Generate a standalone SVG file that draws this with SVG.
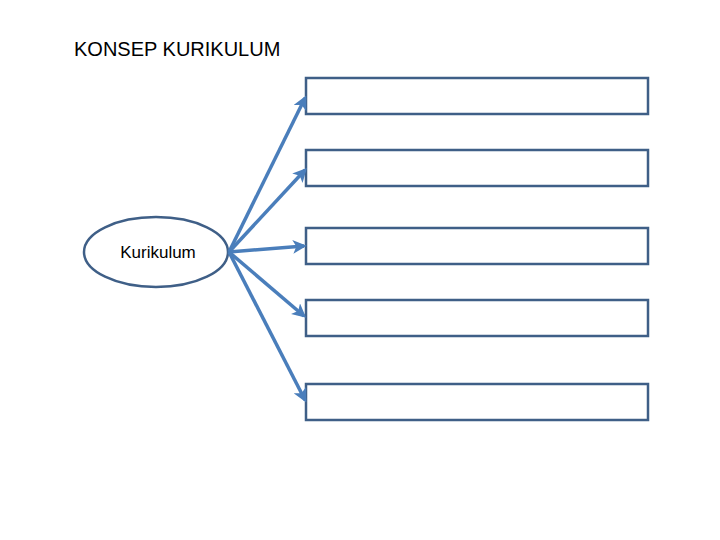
<svg xmlns="http://www.w3.org/2000/svg" width="720" height="540" viewBox="0 0 720 540">
<style>
.box{fill:#fff;stroke:#3F5F87;stroke-width:2.5}
.c{stroke:#4A7EBB;stroke-width:3.5;fill:none;marker-end:url(#a)}
text{font-family:"Liberation Sans",Arial,sans-serif;fill:#000}
</style>
<defs><marker id="a" viewBox="0 0 10 10" refX="8" refY="5" markerWidth="4" markerHeight="4" orient="auto" markerUnits="strokeWidth"><path d="M0,0 L10,5 L0,10 L2.5,5 z" fill="#4A7EBB"/></marker></defs>
<rect width="720" height="540" fill="#fff"/>
<text x="74" y="56" font-size="20">KONSEP KURIKULUM</text>
<g id="kurikulum"><ellipse cx="156" cy="252" rx="72" ry="35" fill="#fff" stroke="#3F5F87" stroke-width="2.5"/><text x="158" y="258" font-size="17" text-anchor="middle">Kurikulum</text></g>
<g id="b1"><rect class="box" x="306" y="78" width="342" height="36"/></g>
<g id="b2"><rect class="box" x="306" y="150" width="342" height="36"/></g>
<g id="b3"><rect class="box" x="306" y="228" width="342" height="36"/></g>
<g id="b4"><rect class="box" x="306" y="300" width="342" height="36"/></g>
<g id="b5"><rect class="box" x="306" y="384" width="342" height="36"/></g>
<g id="connectors">
<line class="c" x1="229" y1="252" x2="305" y2="98"/>
<line class="c" x1="229" y1="252" x2="305" y2="170"/>
<line class="c" x1="229" y1="252" x2="304" y2="246"/>
<line class="c" x1="229" y1="252" x2="304" y2="316"/>
<line class="c" x1="229" y1="252" x2="305" y2="400"/>
</g>
</svg>
